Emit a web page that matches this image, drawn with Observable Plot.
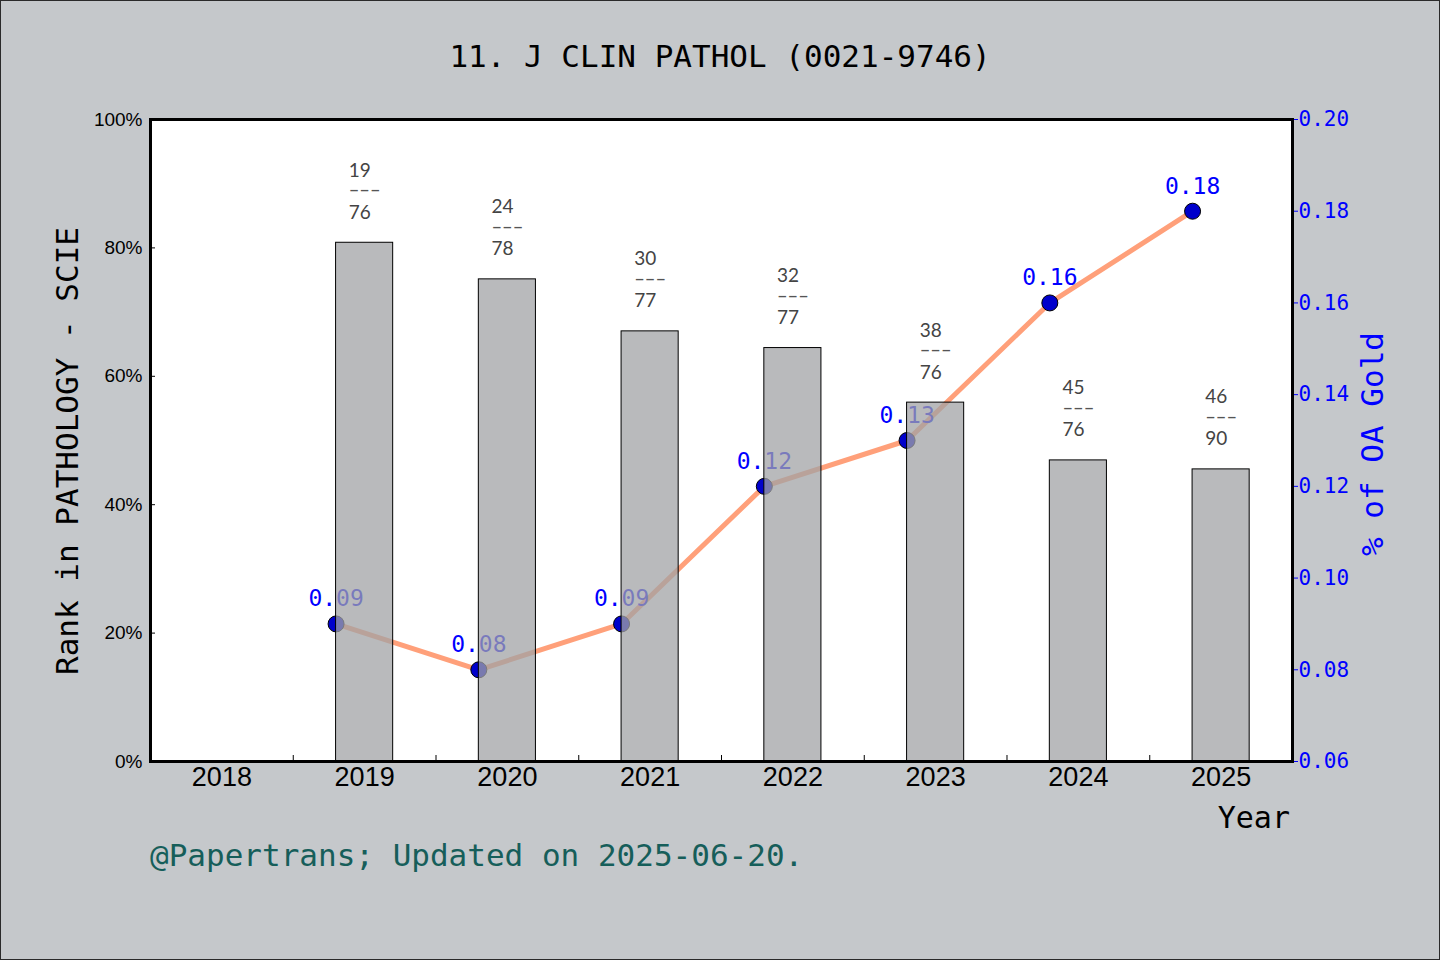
<!DOCTYPE html>
<html><head><meta charset="utf-8">
<script src="https://cdn.jsdelivr.net/npm/d3@7"></script>
<script src="https://cdn.jsdelivr.net/npm/@observablehq/plot@0.6"></script>
<style>
html,body{margin:0;padding:0;background:#c5c8cb;}
#wrap{position:relative;width:1440px;height:960px;background:#c5c8cb;overflow:hidden;}
#wrap::after{content:"";position:absolute;left:0;top:0;right:0;bottom:0;border:1px solid #2a2a2a;pointer-events:none;}
#wrap svg{position:absolute;left:0;top:0;}
</style></head><body><div id="wrap"></div>
<script>
// ---- data ----
const years = ["2018","2019","2020","2021","2022","2023","2024","2025"];
const rankShare = [null, 0.808, 0.751, 0.670, 0.644, 0.559, 0.469, 0.455];
const rankNum = [null, 19, 24, 30, 32, 38, 45, 46];
const rankDen = [null, 76, 78, 77, 77, 76, 76, 90];
const oaGold = [null, 0.09, 0.08, 0.09, 0.12, 0.13, 0.16, 0.18];
const leftTicks = [0, 0.2, 0.4, 0.6, 0.8, 1.0];
const rightTicks = [0.06, 0.08, 0.10, 0.12, 0.14, 0.16, 0.18, 0.20];
const oaMin = 0.06, oaMax = 0.20;
const titleText = "11. J CLIN PATHOL (0021-9746)";
const leftLabel = "Rank in PATHOLOGY - SCIE";
const rightLabel = "% of OA Gold";
const xLabel = "Year";
const footerText = "@Papertrans; Updated on 2025-06-20.";

const toY = v => (v - oaMin) / (oaMax - oaMin);
const fromY = t => t * (oaMax - oaMin) + oaMin;

const mono = "'DejaVu Sans Mono', 'Liberation Mono', monospace";
const rows = years.map((year, i) => ({year, share: rankShare[i], num: rankNum[i], den: rankDen[i], oa: oaGold[i]}));
const bars = rows.filter(d => d.share != null);
const pts = rows.filter(d => d.oa != null);

const W = 1440, H = 960, mL = 150, mR = 148, mT = 119, mB = 199;
const step = (W - mL - mR) / years.length;
const off = -step * 0.4 / 2;

const chart = Plot.plot({
  width: W, height: H, marginLeft: mL, marginRight: mR, marginTop: mT, marginBottom: mB,
  style: {background: "transparent", fontFamily: "'Liberation Sans', Arial, sans-serif", color: "black"},
  x: {type: "band", domain: years, paddingInner: 0.6, paddingOuter: 0.3, round: false, label: null},
  y: {domain: [0, 1], label: null},
  marks: [
    Plot.frame({fill: "white"}),
    Plot.line(pts, {x: "year", y: d => toY(d.oa), dx: off, stroke: "#ffa07a", strokeWidth: 5}),
    Plot.dot(pts, {x: "year", y: d => toY(d.oa), dx: off, r: 8, fill: "#0000cc", stroke: "black", strokeWidth: 1}),
    Plot.text(pts, {x: "year", y: d => toY(d.oa), dx: off, dy: -25, text: d => d.oa.toFixed(2), fill: "#0000ff", fontSize: 23, fontFamily: mono}),
    Plot.barY(bars, {x: "year", y: "share", fill: "rgb(162,163,166)", fillOpacity: 0.75, stroke: "black", strokeWidth: 1}),
    Plot.text(bars, {x: "year", y: "share", text: d => String(d.num), dx: -16, dy: -72, textAnchor: "start", lineAnchor: "middle", fill: "#444", fontSize: 19, fontFamily: "Lato"}),
    Plot.text(bars, {x: "year", y: "share", text: d => "---", dx: -16, dy: -52, textAnchor: "start", lineAnchor: "middle", fill: "#555", fontSize: 14, fontWeight: "bold", fontFamily: "Lato"}),
    Plot.text(bars, {x: "year", y: "share", text: d => String(d.den), dx: -16, dy: -30, textAnchor: "start", lineAnchor: "middle", fill: "#444", fontSize: 19, fontFamily: "Lato"}),
    Plot.axisX({tickSize: 0, tickPadding: 5, fontSize: 27, fill: "black", label: null}),
    Plot.axisX(years.slice(1), {tickSize: -6, fill: "none", stroke: "black", dx: -step / 2, label: null}),
    Plot.axisY(leftTicks, {anchor: "left", tickSize: -5, tickPadding: 13, tickFormat: d => Math.round(d * 100) + "%", fontSize: 19, label: null}),
    Plot.axisY(rightTicks.map(toY), {anchor: "right", tickSize: 5, tickPadding: 1, color: "#0000ff", tickFormat: d => fromY(d).toFixed(2), fontSize: 21, fontFamily: mono, label: null}),
    Plot.frame({stroke: "black", strokeWidth: 3})
  ]
});

document.getElementById("wrap").appendChild(chart);
const svg = d3.select(chart);

// stretch fraction dashes
svg.selectAll("text").filter(function() { return this.textContent === "---"; })
  .attr("textLength", 32).attr("lengthAdjust", "spacingAndGlyphs");

const g = svg.append("g").attr("font-family", mono);
g.append("text").attr("x", 720).attr("y", 67).attr("text-anchor", "middle")
  .attr("font-size", 31).attr("fill", "black").text(titleText);
g.append("text").attr("x", 150).attr("y", 866).attr("text-anchor", "start")
  .attr("font-size", 31).attr("fill", "#165e5a").text(footerText);
g.append("text").attr("x", 1290).attr("y", 828).attr("text-anchor", "end")
  .attr("font-size", 30).attr("fill", "black").text(xLabel);
g.append("text").attr("transform", "translate(78,451) rotate(-90)").attr("text-anchor", "middle")
  .attr("font-size", 31).attr("fill", "black").text(leftLabel);
g.append("text").attr("transform", "translate(1383,444) rotate(-90)").attr("text-anchor", "middle")
  .attr("font-size", 31).attr("fill", "#0000ff").text(rightLabel);
</script></body></html>
